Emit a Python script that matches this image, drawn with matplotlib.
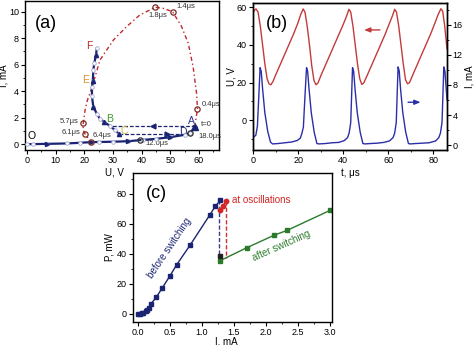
import matplotlib
matplotlib.use('Agg')
import matplotlib.pyplot as plt
from matplotlib.ticker import MultipleLocator, FormatStrFormatter

plt.rcParams['font.family'] = ['Liberation Sans', 'DejaVu Sans']
plt.rcParams['font.size'] = 7
plt.rcParams['axes.linewidth'] = 1.0
for ax_name in ('xtick', 'ytick'):
    plt.rcParams[ax_name + '.direction'] = 'out'
    plt.rcParams[ax_name + '.major.size'] = 3
    plt.rcParams[ax_name + '.minor.size'] = 1.5
    plt.rcParams[ax_name + '.labelsize'] = 6.5
    plt.rcParams[ax_name + '.major.pad'] = 1.5

# ---- panel (a): I-V trajectory ----
u_low = [0.0, 2.3, 7.0, 14.0, 18.6, 22.3, 25.0, 30.2, 35.4, 40.6, 45.2, 49.9, 55.0, 57.0, 58.5]
i_low = [0.0, 0.0, 0.02, 0.05, 0.1, 0.15, 0.16, 0.18, 0.22, 0.32, 0.4, 0.52, 0.7, 0.85, 1.3]
u_up = [24.4, 24.1, 23.5, 23.2, 23.0, 22.7, 22.7, 23.2, 24.4, 25.5, 26.9, 29.0, 30.7, 32.3]
i_up = [7.23, 6.7, 6.1, 5.6, 4.8, 4.3, 3.6, 2.8, 2.3, 1.9, 1.7, 1.36, 1.06, 0.75]
u_jump_ab = [58.5, 29.0]
i_jump_ab = [1.36, 1.36]
u_jump_cd = [32.3, 56.5]
i_jump_cd = [0.75, 0.75]
u_red = [58.5, 59.5, 59.2, 58.0, 56.3, 53.9, 50.8, 47.5, 44.8, 39.4, 34.8, 30.2,
         25.5, 23.8, 22.6, 21.1, 20.3, 19.7, 19.6, 20.3, 22.3]
i_red = [1.3, 2.62, 3.8, 5.8, 7.6, 8.9, 10.0, 10.25, 10.33, 9.75, 8.87, 7.86,
         6.35, 5.09, 4.2, 3.3, 2.57, 1.61, 1.1, 0.76, 0.18]
u_times = [59.5, 50.8, 44.8, 19.7, 20.3, 22.3]
i_times = [2.62, 10.0, 10.33, 1.61, 0.76, 0.18]
time_labels = ['0.4\u03bcs', '1.4\u03bcs', '1.8\u03bcs', '5.7\u03bcs', '6.1\u03bcs', '6.4\u03bcs']
u_late = [39.4, 56.8]
i_late = [0.3, 0.82]
late_labels = ['12.0\u03bcs', '18.0\u03bcs']
point_names = ['O', 'A', 'B', 'C', 'D', 'E', 'F']
point_u = [1.5, 57.4, 29.0, 33.9, 54.5, 20.6, 21.9]
point_i = [0.6, 1.75, 1.9, 1.0, 0.95, 4.85, 7.4]
point_colors = ['black', '#2a3590', '#3c9a2a', '#c9b84a', '#1b2473', '#e0902c', '#c0282d']

# ---- panel (b): time traces ----
u_t = [0, 0.6, 1.3, 2.2, 3.2, 4.2, 5.2, 6.2, 7.1, 7.9, 8.8, 10, 12, 14, 16, 18, 19.8, 21.2, 22.2,
       23.0, 24.0, 25.0, 26.0, 27.0, 27.9, 28.8, 30, 32, 34, 36, 38, 40, 41.5, 42.5,
       43.3, 44.3, 45.3, 46.3, 47.3, 48.2, 49.1, 50.5, 52.5, 54.5, 56.5, 58.5, 60.3, 61.8, 62.8,
       63.6, 64.6, 65.6, 66.6, 67.6, 68.5, 69.4, 70.8, 72.8, 74.8, 76.8, 78.8, 80.6, 82.0, 83.3,
       84.1, 85.0, 86.0]
u_v = [57.5, 58.5, 59.2, 57.5, 50, 40, 30, 22, 19.2, 18.8, 20.5, 24, 29.5, 35, 40.5, 46, 51.5, 56.5, 59.2,
       57.5, 50, 40, 29, 21, 18.8, 19.8, 23.5, 29, 34.5, 40, 45.5, 51, 55.5, 59.0,
       57.5, 50, 40, 30, 22, 19.0, 19.8, 23.5, 29, 34.5, 40, 45.5, 51, 55.5, 59.0,
       57.5, 50, 40, 30, 21.5, 19.3, 20, 24, 29.5, 35, 40.5, 46, 51.5, 56, 59.3,
       58, 50, 38]
i_t = [0, 1.2, 1.9, 2.6, 3.1, 3.6, 4.2, 5.2, 6.5, 7.7, 8.6, 11, 14, 17, 19.5,
       20.9, 21.6, 22.3, 23.0, 23.7, 24.2, 24.8, 25.8, 27.1, 28.3, 29.2, 32, 35, 38, 40.5,
       41.9, 42.6, 43.3, 44.1, 44.6, 45.2, 46.2, 47.5, 48.7, 49.6, 52, 55, 58, 60.5,
       62.1, 62.8, 63.5, 64.3, 64.8, 65.4, 66.4, 67.7, 68.9, 69.8, 72, 75, 78, 81,
       82.4, 83.1, 83.8, 84.6, 85.1, 85.7, 86]
i_v = [1.0, 1.3, 2.5, 7.0, 10.3, 9.8, 7.5, 4.3, 1.8, 0.4, 0.15, 0.2, 0.3, 0.4, 0.6,
       0.9, 1.5, 2.4, 6.5, 10.3, 9.8, 7.5, 4.3, 1.7, 0.2, 0.15, 0.2, 0.3, 0.35, 0.6,
       1.0, 1.6, 3.0, 10.3, 9.8, 7.5, 4.3, 1.7, 0.2, 0.15, 0.2, 0.25, 0.35, 0.55,
       1.0, 1.6, 3.0, 10.4, 9.9, 7.5, 4.3, 1.7, 0.2, 0.15, 0.2, 0.25, 0.3, 0.55,
       1.0, 1.6, 3.0, 10.4, 9.8, 7.3, 6.0]

# ---- panel (c): power vs current ----
i_before = [0.0, 0.03, 0.06, 0.09, 0.13, 0.15, 0.17, 0.21, 0.29, 0.38, 0.5, 0.61, 0.82, 1.13, 1.21, 1.29]
p_before = [0.0, 0.1, 0.3, 0.8, 1.8, 2.6, 3.8, 6.8, 11.0, 17.0, 25.0, 32.8, 45.9, 66.2, 71.6, 75.7]
i_osc = [1.29, 1.33, 1.38]
p_osc = [69.5, 72.0, 75.0]
i_after = [1.29, 1.70, 2.13, 2.33, 3.0]
p_after = [35.5, 44.0, 52.4, 55.6, 68.9]

NAVY = '#1b2473'
RED = '#c0282d'
DKRED = '#7a2a22'
GREEN = '#2b7a2b'
BLUE_B = '#2a2fa8'
RED_B = '#c43a3a'

fig = plt.figure(figsize=(4.74, 3.45), dpi=100)

# (a)
ax = fig.add_axes([0.053, 0.565, 0.409, 0.432])
ax.plot(u_red, i_red, color=RED, lw=1.0, ls=(0, (3, 2, 1, 2)), zorder=2)
ax.plot(u_jump_ab, i_jump_ab, color=NAVY, lw=0.9, ls=(0, (3, 1.5)), zorder=3)
ax.plot(u_jump_cd, i_jump_cd, color=NAVY, lw=0.9, ls=(0, (3, 1.5)), zorder=3)
ax.plot([44.0], [1.36], marker='<', color=NAVY, ms=3.5, zorder=4)
ax.plot([49.0], [0.75], marker='>', color=NAVY, ms=3.5, zorder=4)
ax.plot(u_low, i_low, color=NAVY, lw=1.6, marker='o', ms=2.6, mfc='white', mec='#a5abd6', mew=0.6, zorder=4)
ax.plot(u_up, i_up, color=NAVY, lw=1.6, marker='o', ms=2.6, mfc='white', mec='#a5abd6', mew=0.6, zorder=4)
ax.plot(u_up[1::3], i_up[1::3], ls='none', marker='^', color=NAVY, ms=3, zorder=5)
ax.plot(u_low[2::3], i_low[2::3], ls='none', marker='>', color=NAVY, ms=3, zorder=5)
ax.plot([58.5], [1.3], marker='^', color=NAVY, ms=4, zorder=6)
ax.plot(u_times, i_times, ls='none', marker='o', ms=3.8, mfc='none', mec=DKRED, mew=0.9, zorder=6)
ax.plot(u_late, i_late, ls='none', marker='o', ms=3.8, mfc='none', mec='#333333', mew=0.9, zorder=6)
for u, i, s in zip(u_times, i_times, time_labels):
    if u < 25 and i > 0.5:
        ax.text(u - 1.5, i + 0.1, s, ha='right', va='center', fontsize=5.5, color='#333333')
    elif i < 0.5:
        ax.text(u + 0.7, i + 0.45, s, ha='left', va='center', fontsize=5.5, color='#333333')
    elif i > 9.9 and u < 48:
        ax.text(u - 2.5, i - 0.6, s, ha='left', va='center', fontsize=5.5, color='#333333')
    else:
        ax.text(u + 1.5, i + 0.35, s, ha='left', va='center', fontsize=5.5, color='#333333')
ax.text(41.5, 0.05, late_labels[0], ha='left', va='center', fontsize=5.5, color='#333333')
ax.text(60.0, 0.55, late_labels[1], ha='left', va='center', fontsize=5.5, color='#333333')
ax.text(60.7, 1.5, 't=0', ha='left', va='center', fontsize=5.5, color='#333333')
for name, u, i, c in zip(point_names, point_u, point_i, point_colors):
    ax.text(u, i, name, ha='center', va='center', fontsize=7.5, color=c)
ax.text(0.108, 0.85, '(a)', transform=ax.transAxes, ha='center', va='center', fontsize=13)
ax.set_xlim(-0.6, 67)
ax.set_ylim(-0.45, 10.8)
ax.xaxis.set_major_locator(MultipleLocator(10))
ax.xaxis.set_minor_locator(MultipleLocator(5))
ax.yaxis.set_major_locator(MultipleLocator(2))
ax.yaxis.set_minor_locator(MultipleLocator(1))
ax.set_xlabel('U, V')
ax.set_ylabel('I, mA')
ax.xaxis.set_label_coords(0.46, -0.12)
ax.yaxis.set_label_coords(-0.085, 0.5)

# (b)
bx = fig.add_axes([0.534, 0.565, 0.409, 0.426])
bx.plot(u_t, u_v, color=RED_B, lw=1.0)
bx.set_xlim(0, 86)
bx.set_ylim(-16, 62.3)
bx.xaxis.set_major_locator(MultipleLocator(20))
bx.xaxis.set_minor_locator(MultipleLocator(10))
bx.yaxis.set_major_locator(MultipleLocator(20))
bx.yaxis.set_minor_locator(MultipleLocator(10))
bx.set_xlabel('t, \u03bcs')
bx.set_ylabel('U, V')
bx.xaxis.set_label_coords(0.5, -0.12)
bx.yaxis.set_label_coords(-0.085, 0.5)
bx.annotate('', xy=(48, 48), xytext=(57.5, 48),
            arrowprops=dict(arrowstyle='-|>,head_length=0.5,head_width=0.2', color=RED_B, lw=1.0))
bx.text(0.124, 0.864, '(b)', transform=bx.transAxes, ha='center', va='center', fontsize=13)
bx2 = bx.twinx()
bx2.plot(i_t, i_v, color=BLUE_B, lw=1.0)
bx2.set_ylim(-0.67, 18.9)
bx2.yaxis.set_major_locator(MultipleLocator(4))
bx2.yaxis.set_minor_locator(MultipleLocator(2))
bx2.tick_params(axis='y', pad=1)
bx2.set_ylabel('I, mA')
bx2.yaxis.set_label_coords(1.088, 0.5)
bx2.annotate('', xy=(75.5, 5.7), xytext=(67.5, 5.7),
             arrowprops=dict(arrowstyle='-|>,head_length=0.5,head_width=0.2', color=BLUE_B, lw=1.0))

# (c)
cx = fig.add_axes([0.281, 0.067, 0.419, 0.432])
cx.plot([1.277, 1.277], [p_before[-1], p_after[0]], color='#3a3f8a', lw=1.0, ls=(0, (3, 1.5)))
cx.plot([1.38, 1.38], [p_osc[-1], 37.5], color='#d03030', lw=1.0, ls=(0, (3, 1.5)))
cx.plot(i_before, p_before, color=NAVY, lw=1.0, marker='s', ms=2.5)
cx.plot(i_osc, p_osc, color='#d32525', lw=1.0, marker='o', ms=3.2)
cx.plot(i_after, p_after, color=GREEN, lw=1.0, marker='s', ms=2.5)
cx.plot([1.29], [38.5], marker='s', color='#222222', ms=2.5)
cx.text(0.5, 44, 'before switching', rotation=56, ha='center', va='center', fontsize=7, color=NAVY)
cx.text(2.25, 45.5, 'after switching', rotation=24, ha='center', va='center', fontsize=7, color=GREEN)
cx.text(1.47, 76.1, 'at oscillations', ha='left', va='center', fontsize=7, color='#d32525')
cx.text(0.116, 0.86, '(c)', transform=cx.transAxes, ha='center', va='center', fontsize=13)
cx.set_xlim(-0.07, 3.03)
cx.set_ylim(-5.4, 94)
cx.xaxis.set_major_locator(MultipleLocator(0.5))
cx.xaxis.set_minor_locator(MultipleLocator(0.25))
cx.yaxis.set_major_locator(MultipleLocator(20))
cx.yaxis.set_minor_locator(MultipleLocator(10))
cx.xaxis.set_major_formatter(FormatStrFormatter('%.1f'))
cx.set_xlabel('I, mA')
cx.set_ylabel('P, mW')
cx.xaxis.set_label_coords(0.47, -0.095)
cx.yaxis.set_label_coords(-0.095, 0.5)

fig.savefig('out.png', dpi=100)
